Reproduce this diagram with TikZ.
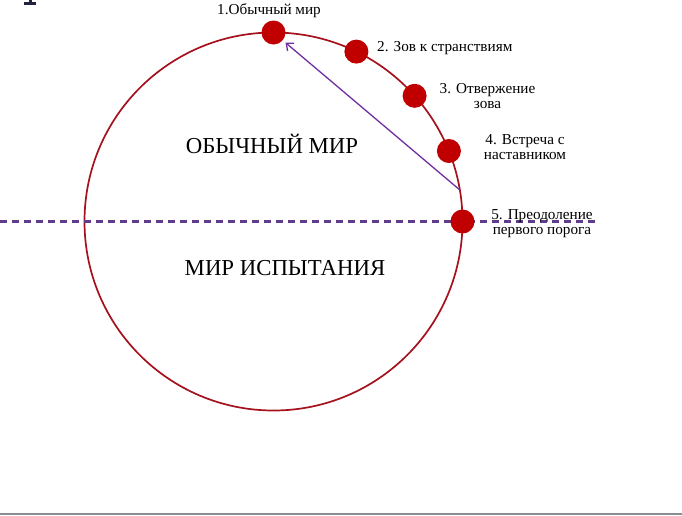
\documentclass[tikz,border=0pt]{standalone}
\usepackage{fontspec}
\setmainfont{Liberation Serif}
\usetikzlibrary{arrows.meta}
\definecolor{ringred}{HTML}{A5121E}
\definecolor{dotred}{HTML}{C00000}
\definecolor{arrowpurple}{HTML}{7030A0}
\definecolor{dashpurple}{HTML}{5F3C8C}
\definecolor{titlenavy}{HTML}{1F2340}
\definecolor{bargray}{HTML}{8A8E92}
\begin{document}
\begin{tikzpicture}[x=1pt,y=-1pt,
  ring/.style={draw=ringred,line width=1.7pt},
  stagedot/.style={circle,fill=dotred,minimum size=24pt,inner sep=0pt},
  lbl/.style={font=\fontsize{15.2}{15.2}\selectfont,align=center,inner sep=0pt,text depth=0pt},
  world/.style={font=\fontsize{22.8}{26}\selectfont,inner sep=0pt,anchor=base},
  link/.style={draw=arrowpurple,line width=1.3pt,-{Straight Barb[length=6pt,width=10pt]}},
  divider/.style={draw=dashpurple,line width=2.6pt,dash pattern=on 7pt off 5pt}]
\useasboundingbox (0,0) rectangle (682,515);
\fill[white] (0,0) rectangle (682,515);
\fill[bargray] (0,512.5) rectangle (682,515);
\fill[titlenavy] (24,2) rectangle (36,4.5);
\fill[titlenavy] (28.5,0) rectangle (31.5,2);
\coordinate (c) at (273.5,221.5);
\coordinate (lineL) at (0,221.5);
\coordinate (lineR) at (595,221.5);
\draw[ring] (c) circle (189);
\draw[divider] (lineL) -- (lineR);
\coordinate (a) at (459.9,190);
\node[stagedot] (d1) at (273.5,32.5) {};
\node[stagedot] (d2) at (356.4,51.6) {};
\node[stagedot] (d3) at (414.6,95.8) {};
\node[stagedot] (d4) at (448.9,151.0) {};
\node[stagedot] (d5) at (462.5,221.5) {};
\draw[link,shorten >=3.5pt] (a) -- (d1);
\node[lbl,anchor=south] (l1) at (269,15) {1.Обычный мир};
\node[lbl,anchor=south west] (l2) at (377,52) {2. Зов к странствиям};
\node[lbl,anchor=south] (l3) at (487.5,109) {3. Отвержение\\зова};
\node[lbl,anchor=south] (l4) at (525,160) {4. Встреча с\\наставником};
\node[lbl,anchor=south] (l5) at (542,235) {5. Преодоление\\первого порога};
\node[world] (w1) at (272,153) {ОБЫЧНЫЙ МИР};
\node[world] (w2) at (285,275) {МИР ИСПЫТАНИЯ};
\end{tikzpicture}
\end{document}
